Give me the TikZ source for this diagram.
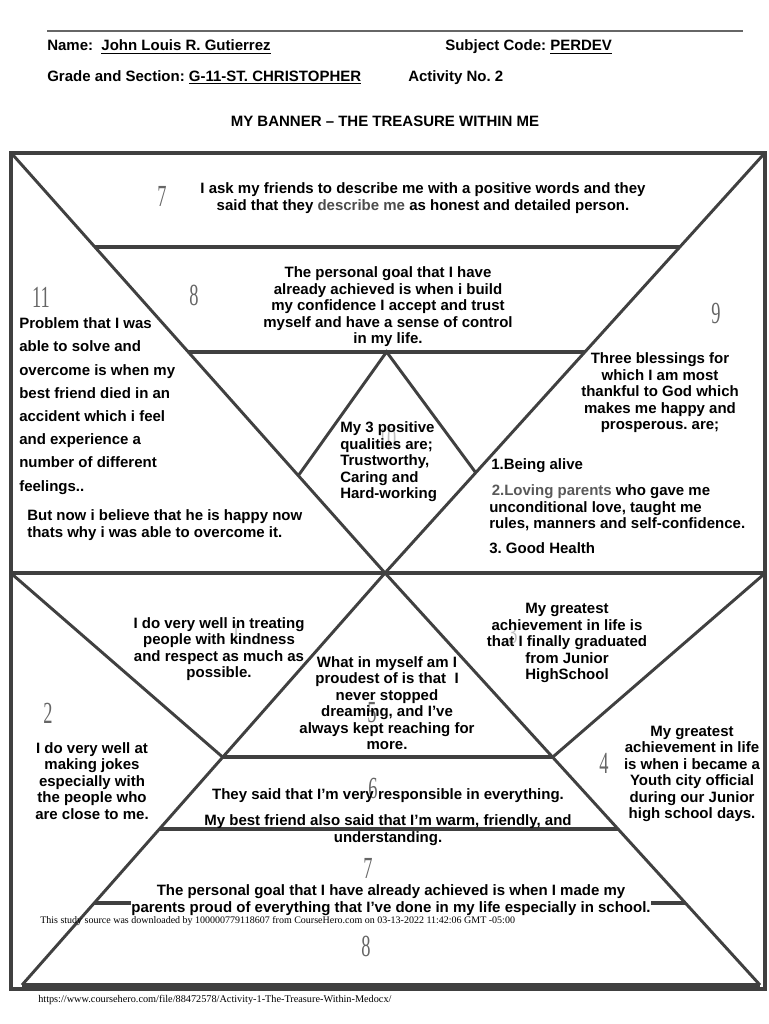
\documentclass[tikz,border=0pt]{standalone}
\usepackage{fontspec}
\setmainfont{Liberation Sans}
\newfontfamily\numfont{Liberation Serif}
\usepackage{xcolor}
\usetikzlibrary{positioning,calc}
\newcommand\thinnum[1]{\scalebox{0.6}[1]{#1}}
\frenchspacing

\begin{document}
\begin{tikzpicture}[x=0.75pt, y=-0.75pt,
  font=\fontsize{11.25}{12.4}\selectfont\bfseries,
  node distance=2.2mm,
  txt/.style={align=center, inner sep=0pt},
  lft/.style={align=left, inner sep=0pt, anchor=west},
  hdr/.style={inner sep=0pt, anchor=base west},
  num/.style={font=\numfont\mdseries\fontsize{23}{23}\selectfont, text=black!60, inner sep=0pt},
  faintnum/.style={num, text=black!25},
  frame/.style={draw=black!75, line width=2.6pt},
  diag/.style={draw=black!75, line width=2.2pt},
  bar/.style={draw=black!75, line width=3.2pt},
  wm/.style={font=\numfont\mdseries\fontsize{7.5}{8}\selectfont, inner sep=0pt, anchor=west},
]
\useasboundingbox (0,0) rectangle (768,1024);

\node[hdr] (name) at (47,51) {Name:~~\underline{John Louis R. Gutierrez}};
\node[hdr] (subj) at (445,51) {Subject Code: \underline{PERDEV}};
\node[hdr] (grade) at (47,81) {Grade and Section: \underline{G-11-ST. CHRISTOPHER}};
\node[hdr] (act) at (408,81) {Activity No. 2};
\node[txt] (title) at (385,121) {MY BANNER – THE TREASURE WITHIN ME};
\draw[black!60, line width=1.2pt] (47,31) -- (743,31);

\coordinate (tl) at (13,155);
\coordinate (tr) at (763,155);
\coordinate (mid) at (385,573);
\coordinate (ml) at (13,575);
\coordinate (mr) at (763,575);
\coordinate (bl) at (22,985);
\coordinate (br) at (760,985);

\draw[frame] (11,153) rectangle (765,989);
\draw[bar] (11,573) -- (765,573);

\draw[diag] (tl) -- (mid) -- (tr);
\draw[bar] ($(tl)!0.22!(mid)$) -- ($(tr)!0.22!(mid)$);
\draw[bar] ($(tl)!0.471!(mid)$) coordinate (b2l) -- ($(tr)!0.471!(mid)$) coordinate (b2r);
\coordinate (dtop) at ($(b2l)!0.5!(b2r)$);
\draw[diag] ($(tl)!0.767!(mid)$) -- (dtop) -- ($(tr)!0.76!(mid)$);

\draw[diag] (bl) -- (mid) -- (br);
\draw[diag] (ml) -- ($(mid)!0.447!(bl)$);
\draw[diag] (mr) -- ($(mid)!0.447!(br)$);
\foreach \f in {0.447,0.621,0.801,1}
  \draw[bar] ($(mid)!\f!(bl)$) -- ($(mid)!\f!(br)$);

\node[num] (n7a) at (162,196) {\thinnum{7}};
\node[num] (n11) at (41,297) {\thinnum{11}};
\node[num] (n8a) at (194,295) {\thinnum{8}};
\node[num] (n9) at (716,313) {\thinnum{9}};
\node[faintnum] (n10) at (387,438) {\thinnum{10}};
\node[faintnum] (n1) at (236,633) {\thinnum{1}};
\node[faintnum] (n3) at (513,633) {\thinnum{3}};
\node[num] (n2) at (48,713) {\thinnum{2}};
\node[num] (n5) at (372,713) {\thinnum{5}};
\node[num] (n4) at (604,763) {\thinnum{4}};
\node[num] (n6) at (373,788) {\thinnum{6}};
\node[num] (n7b) at (368,868) {\thinnum{7}};
\node[num] (n8b) at (366,946) {\thinnum{8}};

\node[txt] (friends) at (423,198) {I ask my friends to describe me with a positive words and they\\
said that they \textcolor{black!70}{describe me} as honest and detailed person.};
\node[txt] (goal) at (388,307) {The personal goal that I have\\already achieved is when i build\\my confidence I accept and trust\\myself and have a sense of control\\in my life.};
\node[lft, font=\fontsize{11.25}{17.4}\selectfont\bfseries] (problem) at (19,406) {Problem that I was\\able to solve and\\overcome is when my\\best friend died in an\\accident which i feel\\and experience a\\number of different\\feelings..};
\node[lft] (butnow) at (27,525) {But now i believe that he is happy now\\thats why i was able to overcome it.};
\node[lft] (quals) at (340,462) {My 3 positive\\qualities are;\\Trustworthy,\\Caring and\\Hard-working};
\node[txt] (bless) at (660,393) {Three blessings for\\which I am most\\thankful to God which\\makes me happy and\\prosperous. are;};
\node[lft] (alive) at (491,466) {1.Being alive};
\node[lft, below=3mm of alive.south west, anchor=north west, xshift=-1.5pt] (parents) {\textcolor{black!65}{\,2.Loving parents} who gave me\\unconditional love, taught me\\rules, manners and self-confidence.};
\node[lft, below=3mm of parents.south west, anchor=north west] (health) {3. Good Health};

\node[txt] (kind) at (219,649) {I do very well in treating\\people with kindness\\and respect as much as\\possible.};
\node[txt] (grad) at (567,643) {My greatest\\achievement in life is\\that I finally graduated\\from Junior\\HighSchool};
\node[txt] (proud) at (387,703) {What in myself am I\\proudest of is that~ I\\never stopped\\dreaming, and I’ve\\always kept reaching for\\more.};
\node[txt] (jokes) at (92,781) {I do very well at\\making jokes\\especially with\\the people who\\are close to me.};
\node[txt] (youth) at (692,774) {My greatest\\achievement in life\\is when i became a\\Youth city official\\during our Junior\\high school days.};
\node[txt] (resp) at (388,796) {They said that I'm very responsible in everything.};
\node[txt] (warm) at (388,830) {My best friend also said that I'm warm, friendly, and\\understanding.};
\node[txt, fill=white] (made) at (391,900) {The personal goal that I have already achieved is when I made my\\parents proud of everything that I’ve done in my life especially in school.};

\node[wm] (src) at (40,921) {This study source was downloaded by 100000779118607 from CourseHero.com on 03-13-2022 11:42:06 GMT -05:00};
\node[wm, font=\numfont\mdseries\fontsize{7.7}{8}\selectfont] (url) at (38,1000) {https://www.coursehero.com/file/88472578/Activity-1-The-Treasure-Within-Medocx/};
\end{tikzpicture}
\end{document}
